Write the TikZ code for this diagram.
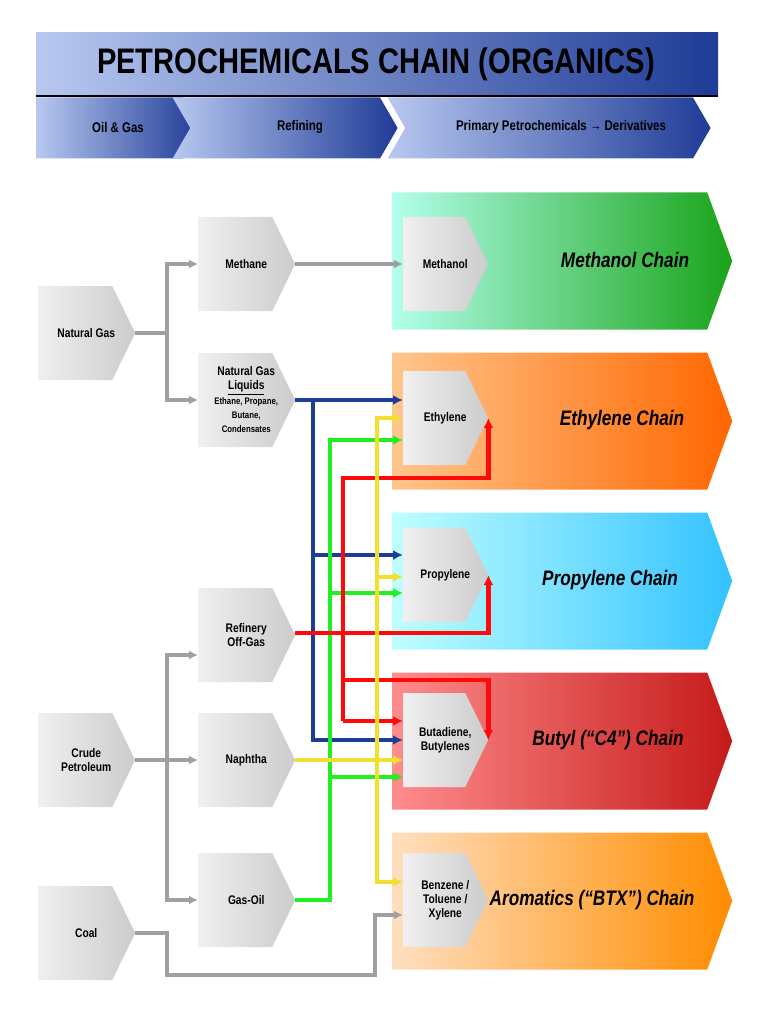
\documentclass[tikz,border=0pt]{standalone}
\usepackage{fontspec}
\setmainfont{Liberation Sans}[FakeStretch=0.82]
\usetikzlibrary{shapes.symbols}
\usetikzlibrary{arrows.meta}
\definecolor{bnlight}{HTML}{B8C8F0}
\definecolor{bndark}{HTML}{1F3C96}
\definecolor{cblue}{HTML}{1F3C96}
\definecolor{cgreen}{HTML}{22EE22}
\definecolor{cred}{HTML}{FF0A0A}
\definecolor{cyellow}{HTML}{F2E030}
\definecolor{cgray}{HTML}{A0A0A0}
\tikzset{
  boxtext/.style={align=center, xshift=11pt, font=\fontsize{12.5}{14}\selectfont\bfseries},
  box/.style={signal, signal to=east, signal pointer angle=128, draw=none,
    anchor=west, minimum width=97pt, minimum height=94pt, inner sep=0pt,
    left color=gray!12, right color=gray!40, label={[boxtext]center:{#1}}},
  ibox/.style={box={#1}, minimum width=85pt},
  chain/.style={signal, signal to=east, signal pointer angle=140, draw=none,
    anchor=west, minimum width=340pt, minimum height=137pt, inner sep=0pt},
  chainlbl/.style={font=\fontsize{21}{24}\selectfont\bfseries\itshape},
  band/.style={signal, signal to=east, draw=none, inner sep=0pt, anchor=west,
    minimum height=61pt, signal pointer angle=120,
    left color=bnlight, right color=bndark},
  bandtext/.style={font=\fontsize{14}{16}\selectfont\bfseries},
  gline/.style={draw=cgray, line width=3.5pt, -{Latex[length=9pt,width=9pt]}},
  cline/.style={line width=4.5pt, -{Latex[length=10pt,width=10pt]}}
}
\begin{document}
\begin{tikzpicture}[x=1pt,y=-1pt]
  \useasboundingbox (0,0) rectangle (768,1024);

  % banner
  \shade[left color=bnlight, right color=bndark] (36,33) rectangle (718,95);
  \node (title) at (376,64) {\fontsize{35.5}{40}\selectfont\bfseries PETROCHEMICALS CHAIN (ORGANICS)};
  \draw[line width=2pt] (36,96) -- (718,96);
  \node[band, signal from=nowhere, minimum width=164pt] (og) at (36,128) {};
  \node[band, signal from=west, minimum width=225pt] (rf) at (190,128) {};
  \node[band, signal from=west, minimum width=323pt] (pp) at (405,128) {};
  \node[bandtext] (ogt) at (118,127) {Oil \& Gas};
  \node[bandtext] (rft) at (300,127) {Refining};
  \node[bandtext] (ppt) at (561,127) {Primary Petrochemicals → Derivatives};

  % chains
  \node[chain, left color=green!25!cyan!30, right color=green!60!black!90] (mchain) at (392,261) {};
  \node[chain, left color=orange!45, right color=orange!80!red] (echain) at (392,421) {};
  \node[chain, left color=cyan!25, right color=cyan!70!blue!80] (pchain) at (392,581) {};
  \node[chain, left color=red!45, right color=red!75!black!90] (bchain) at (392,741) {};
  \node[chain, left color=orange!25, right color=orange!90!yellow] (achain) at (392,901) {};
  \node[chainlbl] (mlbl) at (625,260) {Methanol Chain};
  \node[chainlbl] (elbl) at (622,420) {Ethylene Chain};
  \node[chainlbl] (plbl) at (610,580) {Propylene Chain};
  \node[chainlbl] (blbl) at (608,740) {Butyl (``C4'') Chain};
  \node[chainlbl] (albl) at (592,900) {Aromatics (``BTX'') Chain};

  % feedstocks
  \node[box={Natural Gas}] (ng) at (38,333) {};
  \node[box={Crude\\Petroleum}] (crude) at (38,760) {};
  \node[box={Coal}] (coal) at (38,933) {};

  % refining
  \node[box={Methane}] (meth) at (198,264) {};
  \node[box={Natural Gas\\\underline{Liquids}\\[1pt]
    {\fontsize{9.5}{11}\selectfont Ethane, Propane,}\\{\fontsize{9.5}{11}\selectfont Butane,}\\{\fontsize{9.5}{11}\selectfont Condensates}}] (ngl) at (198,400) {};
  \node[box={Refinery\\Off-Gas}] (rog) at (198,635) {};
  \node[box={Naphtha}] (nap) at (198,760) {};
  \node[box={Gas-Oil}] (go) at (198,900) {};

  % primary
  \node[ibox={Methanol}] (mol) at (403,264) {};
  \node[ibox={Ethylene}] (eth) at (403,418) {};
  \node[ibox={Propylene}] (pro) at (403,575) {};
  \node[ibox={Butadiene,\\Butylenes}] (but) at (403,740) {};
  \node[ibox={Benzene /\\Toluene /\\Xylene}] (btx) at (403,900) {};

  % gray connectors
  \draw[draw=cgray, line width=3.5pt] (ng.east) -- (167,333);
  \draw[gline] (167,333) |- (meth.west);
  \draw[gline] (167,333) |- (ngl.west);
  \draw[gline] (meth.east) -- (mol.west);
  \draw[draw=cgray, line width=3.5pt] (crude.east) -- (167,760);
  \draw[gline] (167,760) |- (rog.west |- 0,655);
  \draw[gline] (crude.east) -- (nap.west);
  \draw[gline] (167,760) |- (go.west);
  \draw[gline] (coal.east) -| (167,975) -| (375,915) -- (btx.west |- 0,915);

  % natural gas liquids
  \draw[cline, draw=cblue] (ngl.east) -- (eth.west |- 0,400);
  \draw[cline, draw=cblue] (313,400) |- (pro.west |- 0,555);
  \draw[cline, draw=cblue] (313,555) |- (but.west |- 0,740);
  % gas-oil
  \draw[cline, draw=cgreen] (go.east) -| (330,440) -- (eth.west |- 0,440);
  \draw[cline, draw=cgreen] (330,593) -- (pro.west |- 0,593);
  \draw[cline, draw=cgreen] (330,777) -- (but.west |- 0,777);
  % refinery off-gas
  \draw[cline, draw=cred] (rog.east |- 0,633) -| (pro.east);
  \draw[cline, draw=cred] (343,721) |- (eth.east |- 0,478) -- (eth.east);
  \draw[cline, draw=cred] (343,680) -| (but.east);
  \draw[cline, draw=cred] (343,721) -- (but.west |- 0,721);
  % naphtha
  \draw[cline, draw=cyellow] (nap.east) -- (but.west |- 0,760);
  \draw[cline, draw=cyellow] (377,882) |- (eth.west |- 0,418);
  \draw[cline, draw=cyellow] (377,577) -- (pro.west |- 0,577);
  \draw[cline, draw=cyellow] (377,760) -- (377,882) -- (btx.west |- 0,882);
\end{tikzpicture}
\end{document}
